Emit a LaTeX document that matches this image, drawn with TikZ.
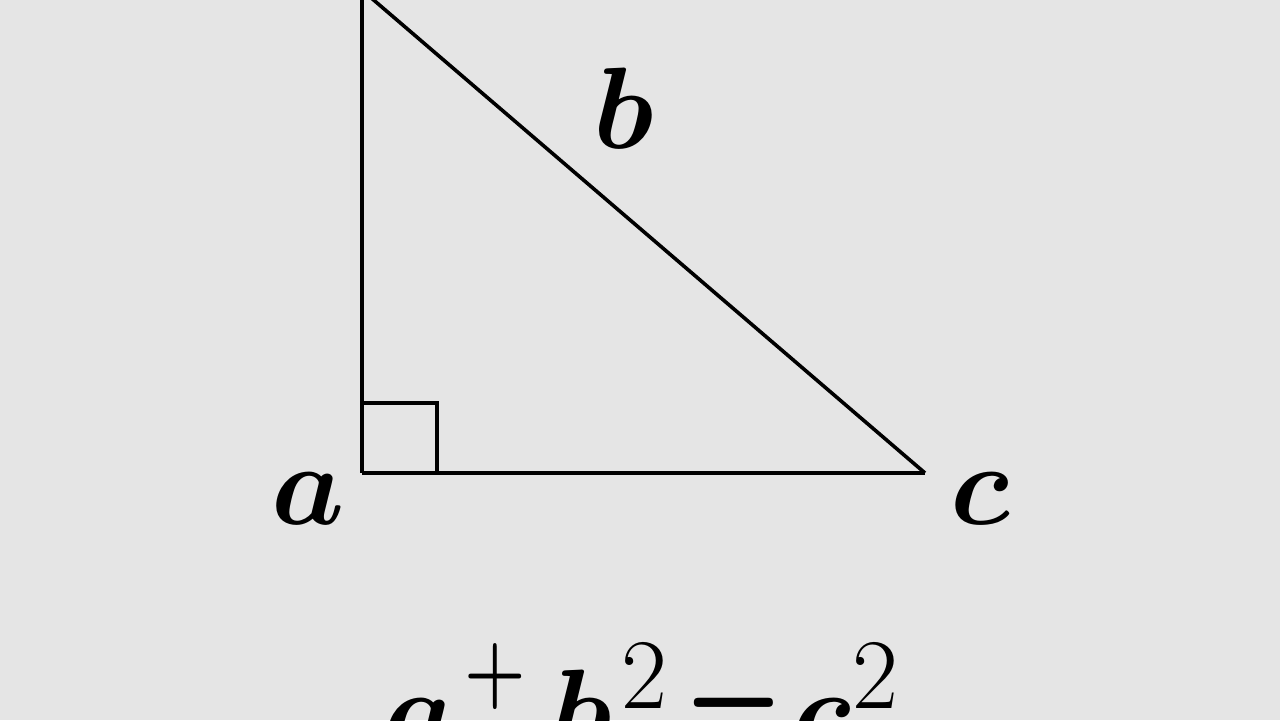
\documentclass[tikz,border=0pt]{standalone}
\usepackage{fix-cm}
\usepackage{graphicx}
\usetikzlibrary{positioning}

\newcommand{\bigsq}{\raisebox{21pt}{\fontsize{50}{54}\selectfont 2}}
\newcommand{\ltr}[1]{{\boldmath$#1$}}

\begin{document}
\begin{tikzpicture}[x=0.5pt,y=-0.5pt,
	side_line/.style={draw=black,line width=1.8pt},
	label_node/.style={inner sep=0pt,anchor=base,font=\fontsize{58}{66}\selectfont},
	formula_node/.style={inner sep=0pt,anchor=base west,font=\fontsize{58}{66}\selectfont}]

			\fill[black!10] (0,0) rectangle (1280,720);
			\useasboundingbox (0,0) rectangle (1280,720);
			\clip (0,0) rectangle (1280,720);

			\coordinate (top) at (362,-10);
			\coordinate (right) at (362,473);
			\coordinate (far) at (925,473);

			\path[side_line, line join=miter]
			(top) edge (right)
			(right) edge (far)
			(far) edge (top);
			\draw[side_line] (362,403) -| (437,473);

			\node[label_node] (a) at (308,524) {\ltr{a}};
			\node[label_node] (b) at (624,148) {\ltr{b}};
			\node[label_node] (c) at (980,524) {\ltr{c}};

			\node[formula_node] (law) at (383,750)
			{\ltr{a}\kern4pt\raisebox{26pt}{\scalebox{0.8}[1]{\fontsize{44}{48}\selectfont\ltr{+}}}\kern12.5pt\ltr{b}\kern5pt\bigsq\kern8pt\raisebox{5pt}{\scalebox{1.2}[1.6]{\fontsize{47}{50}\selectfont\ltr{-}}}\kern4pt\ltr{c}\kern0pt\bigsq};
		\end{tikzpicture}
\end{document}
